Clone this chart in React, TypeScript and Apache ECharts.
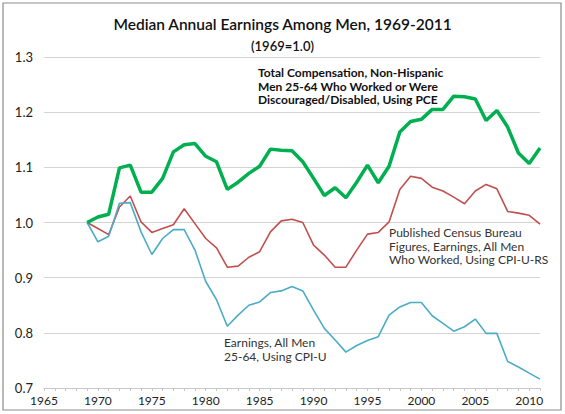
import React, { useEffect, useRef } from "react";
import * as echarts from "echarts";

const years: number[] = [
  1969, 1970, 1971, 1972, 1973, 1974, 1975, 1976, 1977, 1978, 1979, 1980, 1981, 1982, 1983,
  1984, 1985, 1986, 1987, 1988, 1989, 1990, 1991, 1992, 1993, 1994, 1995, 1996, 1997, 1998,
  1999, 2000, 2001, 2002, 2003, 2004, 2005, 2006, 2007, 2008, 2009, 2010, 2011,
];

const totalCompPCE: number[] = [
  1.0, 1.01, 1.015, 1.099, 1.104, 1.055, 1.055, 1.08, 1.128, 1.141, 1.143, 1.12, 1.11, 1.06, 1.073,
  1.089, 1.102, 1.133, 1.131, 1.13, 1.11, 1.08, 1.049, 1.063, 1.045, 1.073, 1.104, 1.072, 1.102, 1.164,
  1.183, 1.187, 1.205, 1.205, 1.229, 1.228, 1.224, 1.185, 1.203, 1.173, 1.126, 1.107, 1.135,
];

const censusCPIURS: number[] = [
  1.0, 0.989, 0.978, 1.028, 1.048, 1.001, 0.982, 0.989, 0.996, 1.025, 0.998, 0.971, 0.954, 0.919, 0.921,
  0.937, 0.947, 0.983, 1.003, 1.006, 1.0, 0.959, 0.941, 0.919, 0.919, 0.95, 0.979, 0.982, 1.001, 1.06,
  1.084, 1.08, 1.064, 1.057, 1.046, 1.034, 1.057, 1.069, 1.061, 1.02, 1.017, 1.013, 0.997,
];

const earningsCPIU: number[] = [
  1.0, 0.965, 0.975, 1.035, 1.036, 0.983, 0.942, 0.971, 0.987, 0.987, 0.95, 0.893, 0.86, 0.812, 0.832,
  0.85, 0.856, 0.873, 0.876, 0.884, 0.876, 0.841, 0.808, 0.787, 0.765, 0.777, 0.786, 0.793, 0.832, 0.847,
  0.855, 0.855, 0.831, 0.817, 0.803, 0.811, 0.825, 0.799, 0.799, 0.748, 0.738, 0.727, 0.716,
];

const titleText = "Median Annual Earnings Among Men, 1969-2011";
const subtitleText = "(1969=1.0)";
const greenLabel = "Total Compensation, Non-Hispanic\nMen 25-64 Who Worked or Were\nDiscouraged/Disabled, Using PCE";
const redLabel = "Published Census Bureau\nFigures, Earnings, All Men\nWho Worked, Using CPI-U-RS";
const blueLabel = "Earnings, All Men\n25-64, Using CPI-U";

const FONT = "Lato, 'Open Sans', sans-serif";

export default function App() {
  const ref = useRef<HTMLDivElement>(null);

  useEffect(() => {
    document.body.style.margin = "0";
    if (!ref.current) return;
    const chart = echarts.init(ref.current, undefined, { renderer: "svg" });
    const pairs = (vals: number[]) => years.map((y, i) => [y, vals[i]]);

    chart.setOption({
      animation: false,
      backgroundColor: "#ffffff",
      textStyle: { fontFamily: FONT },
      title: [
        {
          text: titleText,
          left: "center",
          top: 11,
          textStyle: { fontSize: 15.5, fontWeight: 600, color: "#111", fontFamily: FONT },
        },
        {
          text: subtitleText,
          left: "center",
          top: 34,
          textStyle: { fontSize: 13, fontWeight: 600, color: "#111", fontFamily: FONT },
        },
      ],
      grid: { left: 44, right: 25, top: 57, bottom: 26, containLabel: false },
      xAxis: [
        {
          type: "value",
          min: 1965,
          max: 2011,
          interval: 5,
          axisLine: { show: true, lineStyle: { color: "#c8c8c8", width: 1 } },
          axisTick: { show: false },
          splitLine: { show: false },
          axisLabel: {
            margin: 6,
            fontSize: 12,
            color: "#222",
            fontFamily: FONT,
            formatter: (v: number) => (v % 5 === 0 ? String(v) : ""),
          },
        },
        {
          type: "value",
          min: 1965,
          max: 2011,
          interval: 1,
          position: "bottom",
          axisLine: { show: false },
          axisTick: { show: true, length: 3, lineStyle: { color: "#c8c8c8" } },
          splitLine: { show: false },
          axisLabel: { show: false },
        },
      ],
      yAxis: {
        type: "value",
        min: 0.7,
        max: 1.3,
        interval: 0.1,
        axisLine: { show: false },
        axisTick: { show: false },
        splitLine: { show: true, lineStyle: { color: "#d4d4d4", width: 1 } },
        axisLabel: {
          margin: 11,
          fontSize: 13,
          color: "#222",
          fontFamily: FONT,
          formatter: (v: number) => v.toFixed(1),
        },
      },
      series: [
        {
          name: "Census CPI-U-RS",
          type: "line",
          data: pairs(censusCPIURS),
          showSymbol: false,
          lineStyle: { color: "#c0504d", width: 1.6 },
          itemStyle: { color: "#c0504d" },
        },
        {
          name: "Earnings CPI-U",
          type: "line",
          data: pairs(earningsCPIU),
          showSymbol: false,
          lineStyle: { color: "#4bacc6", width: 1.6 },
          itemStyle: { color: "#4bacc6" },
        },
        {
          name: "Total Compensation PCE",
          type: "line",
          data: pairs(totalCompPCE),
          showSymbol: false,
          lineStyle: { color: "#00b050", width: 3.5 },
          itemStyle: { color: "#00b050" },
        },
      ],
      graphic: [
        {
          type: "rect",
          shape: { x: 3, y: 3, width: 558, height: 407 },
          style: { fill: "none", stroke: "#8c8c8c", lineWidth: 1.2 },
          silent: true,
        },
        {
          type: "text",
          x: 258,
          y: 66,
          style: {
            text: greenLabel,
            font: `bold 12px ${FONT}`,
            fill: "#111",
            lineHeight: 13.5,
          },
        },
        {
          type: "text",
          x: 389,
          y: 226,
          style: {
            text: redLabel,
            font: `12px ${FONT}`,
            fill: "#333",
            lineHeight: 13.5,
          },
        },
        {
          type: "text",
          x: 224,
          y: 336,
          style: {
            text: blueLabel,
            font: `12px ${FONT}`,
            fill: "#333",
            lineHeight: 13.5,
          },
        },
      ],
    });

    return () => chart.dispose();
  }, []);

  return <div ref={ref} style={{ width: 565, height: 414 }} />;
}
